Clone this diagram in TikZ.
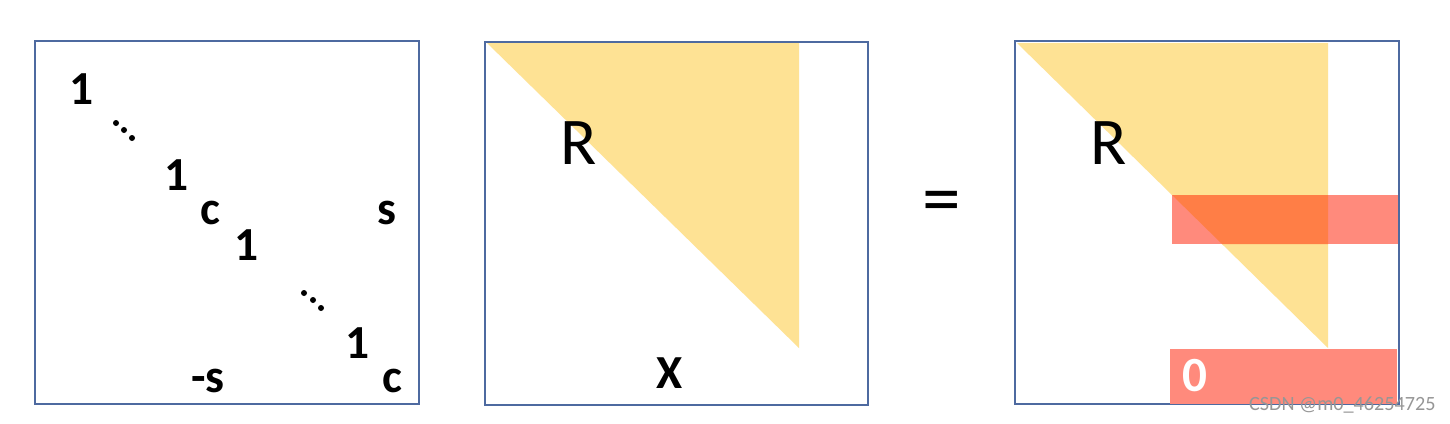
\documentclass[tikz,border=0pt]{standalone}
\usepackage{fontspec}
\setmainfont{Carlito}
\definecolor{framec}{RGB}{78,106,160}
\definecolor{tri}{RGB}{254,226,148}
\definecolor{band}{RGB}{255,138,124}
\definecolor{overlap}{RGB}{255,126,70}
\definecolor{wm}{RGB}{150,150,150}
\begin{document}
\begin{tikzpicture}[x=0.02cm,y=-0.02cm,
  frame/.style={draw=framec,line width=0.9pt},
  digit/.style={font=\bfseries\fontsize{27}{27}\selectfont,inner sep=0pt},
  lett/.style={font=\bfseries\fontsize{27}{27}\selectfont,inner sep=0pt},
  bigR/.style={font=\fontsize{38}{38}\selectfont,inner sep=0pt},
  dotc/.style={fill=black},
]
\useasboundingbox[fill=white] (0,0) rectangle (1450,423);

% ---- left matrix ----
\draw[frame] (35,41) rectangle (419,404);
\node[digit] (a1) at (82,89) {1};
\foreach \x/\y in {116/123,124/130,132/138} \fill[dotc] (\x,\y) circle (3);
\node[digit] (a2) at (177,175) {1};
\node[lett] (c1) at (210,213) {c};
\node[lett] (s1) at (387,213) {s};
\node[digit] (a3) at (247,245) {1};
\foreach \x/\y in {304/293,313/300,321/308} \fill[dotc] (\x,\y) circle (3);
\node[digit] (a4) at (358,343) {1};
\node[lett] (s2) at (208,381) {-s};
\node[lett] (c2) at (392,381) {c};

% ---- middle matrix ----
\fill[tri] (487,43) -- (799,43) -- (799,348) -- cycle;
\draw[frame] (485,42) rectangle (868,405);
\node[bigR] (r1) at (579,143) {R};
\node[font=\bfseries\fontsize{27}{27}\selectfont,inner sep=0pt] (x1) at (670,373) {X};

% ---- equals ----
\node[font=\fontsize{44}{44}\selectfont,inner sep=0pt] (eq) at (942,208) {=};

% ---- right matrix ----
\fill[tri] (1017,43) -- (1328,43) -- (1328,348) -- cycle;
\fill[band] (1172,195) rectangle (1399,244);
\fill[overlap] (1172,195) -- (1328,195) -- (1328,244) -- (1222,244) -- cycle;
\draw[frame] (1015,41) rectangle (1399,404);
\fill[band] (1170,349) rectangle (1397,404);
\node[bigR] (r2) at (1109,143) {R};
\node[font=\bfseries\fontsize{28}{28}\selectfont,text=white,inner sep=0pt] (z) at (1195,376) {0};

% ---- watermark ----
\node[font=\fontsize{11.5}{11.5}\selectfont,text=wm,inner sep=0pt,anchor=east] (w) at (1436,405) {CSDN @m0\_46254725};
\end{tikzpicture}
\end{document}
